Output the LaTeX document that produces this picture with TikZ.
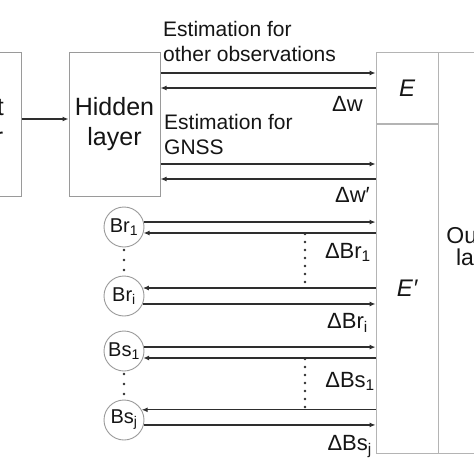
\documentclass[tikz,border=0pt]{standalone}
\usepackage{fontspec}
\setmainfont{Liberation Sans}
\usetikzlibrary{arrows.meta}
\definecolor{boxgray}{HTML}{9A9A9A}
\definecolor{lightbox}{HTML}{B4B4B4}
\definecolor{linec}{HTML}{2E2E2E}
\definecolor{txt}{HTML}{151515}
\begin{document}
\begin{tikzpicture}[x=1pt,y=-1pt,
  box/.style={draw=boxgray, line width=1pt, inner sep=0pt, text=txt},
  obox/.style={draw=lightbox, line width=0.9pt, inner sep=0pt, text=txt},
  lay/.style={font=\fontsize{25}{30}\selectfont, align=center},
  est/.style={font=\fontsize{21}{25}\selectfont, align=left, anchor=north west, inner sep=0pt, text=txt},
  dl/.style={font=\fontsize{22}{26}\selectfont, anchor=base east, inner sep=0pt, text=txt},
  bc/.style={circle, draw=boxgray, line width=0.9pt, minimum size=40pt, inner sep=0pt, font=\fontsize{20}{24}\selectfont, text=txt},
  arr/.style={draw=linec, line width=1.3pt, -{Latex[length=6pt,width=5pt]}},
  dotc/.style={fill=linec}]
\useasboundingbox (0,0) rectangle (474,474);
\clip (0,0) rectangle (474,474);
\fill[white] (0,0) rectangle (474,474);
% boxes
\node[box, lay, minimum width=90pt, minimum height=144pt] (inp) at (-24,124) {Input\\layer};
\node[box, lay, minimum width=91pt, minimum height=144pt] (hid) at (114.5,124) {Hidden\\layer};
\node[obox, minimum width=62pt, minimum height=71pt, font=\fontsize{24}{28}\selectfont\itshape] (eb) at (407,88) {E};
\node[obox, minimum width=62pt, minimum height=329pt, font=\fontsize{24}{28}\selectfont\itshape] (epb) at (407,288.5) {E′};
\node[obox, minimum width=86pt, minimum height=401pt] (ob) at (481,252.5) {};
\node[font=\fontsize{23}{20}\selectfont, align=center, inner sep=0pt, text=txt] (outt) at (481,249) {Output\\layer};
% levels
\coordinate (y0) at (0,119);
\coordinate (y1) at (0,73);
\coordinate (y2) at (0,88);
\coordinate (y3) at (0,164);
\coordinate (y4) at (0,179);
\draw[arr] (inp.east |- y0) -- (hid.west |- y0);
\draw[arr] (hid.east |- y1) -- (eb.west |- y1);
\draw[arr] (eb.west |- y2) -- (hid.east |- y2);
\draw[arr] (hid.east |- y3) -- (epb.west |- y3);
\draw[arr] (epb.west |- y4) -- (hid.east |- y4);
% texts
\node[est] (t1) at (163,21.5) {Estimation for\\other observations};
\node[est] (t2) at (164,114.5) {Estimation for\\GNSS};
\node[dl] (lw) at (363,111) {Δw};
\node[dl] (lwp) at (370,202) {Δw′};
% bias circles
\node[bc] (br1) at (124,227) {Br\textsubscript{1}};
\node[bc] (bri) at (124,296) {Br\textsubscript{i}};
\node[bc] (bs1) at (124,351) {Bs\textsubscript{1}};
\node[bc] (bsj) at (124,420) {Bs\textsubscript{j}};
\draw[arr] (br1.14.5) -- (epb.west |- br1.14.5);
\draw[arr] (epb.west |- br1.-17.5) -- (br1.-17.5);
\draw[arr] (epb.west |- bri.23.6) -- (bri.23.6);
\draw[arr] (bri.-23.6) -- (epb.west |- bri.-23.6);
\draw[arr] (bs1.11.5) -- (epb.west |- bs1.11.5);
\draw[arr] (epb.west |- bs1.-20.5) -- (bs1.-20.5);
\draw[arr] (epb.west |- bsj.30) -- (bsj.30);
\draw[arr] (bsj.-14.5) -- (epb.west |- bsj.-14.5);
\node[dl] (lbr1) at (371,258) {ΔBr\textsubscript{1}};
\node[dl] (lbri) at (368,328) {ΔBr\textsubscript{i}};
\node[dl] (lbs1) at (375,387) {ΔBs\textsubscript{1}};
\node[dl] (lbsj) at (372,450) {ΔBs\textsubscript{j}};
% dots
\foreach \yy in {250,260,270,374,384,394} \fill[dotc] (124,\yy) circle[radius=1.4];
\foreach \k in {0,...,6} {
  \fill[dotc] (305,234+8*\k) circle[radius=1.3];
  \fill[dotc] (305,359+8*\k) circle[radius=1.3];
}
\end{tikzpicture}
\end{document}
